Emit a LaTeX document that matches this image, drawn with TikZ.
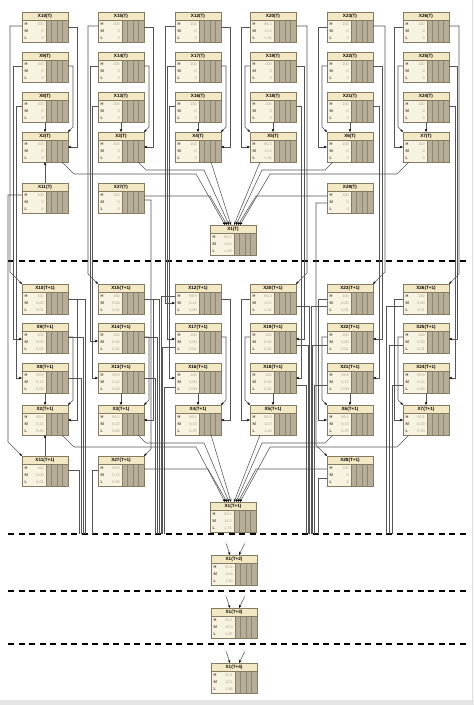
\documentclass[tikz,border=0pt]{standalone}
\usepackage{fontspec}
\setmainfont{Liberation Sans}
\usetikzlibrary{calc,arrows.meta}
\definecolor{ttl}{HTML}{F3E8C4}
\definecolor{bdy}{HTML}{F8F2E0}
\definecolor{barc}{HTML}{B7AE99}
\definecolor{barln}{HTML}{8F866F}
\definecolor{edgec}{HTML}{857A62}
\definecolor{valc}{HTML}{A8A08A}
\definecolor{wire}{HTML}{555555}
\tikzset{
 bnbox/.style={draw=edgec, line width=0.5pt, minimum width=46pt, minimum height=30pt, inner sep=0pt, outer sep=0pt, anchor=north west},
 ttxt/.style={font=\fontsize{4.6}{5}\selectfont\bfseries, inner sep=0pt},
 ltxt/.style={font=\fontsize{4}{4}\selectfont, inner sep=0pt, anchor=west},
 vtxt/.style={font=\fontsize{3.8}{4}\selectfont, text=valc, inner sep=0pt, anchor=east},
 conn/.style={draw=wire, line width=0.55pt},
 tip/.style={-{Stealth[length=3.2pt,width=2.6pt,color=black]}},
 cutline/.style={line width=1.6pt, dash pattern=on 6pt off 4.5pt},
 dotstxt/.style={font=\fontsize{4}{4}\selectfont, text=black!55, inner sep=0pt},
}
% #1 name #2 x #3 y #4 title #5 H #6 M #7 L
\newcommand\bn[7]{%
 \fill[ttl] (#2,#3) rectangle ++(46,8);
 \fill[bdy] (#2,#3+8) rectangle ++(24,22);
 \fill[barc] (#2+24,#3+8) rectangle ++(22,22);
 \draw[barln,line width=0.4pt] (#2+29.5,#3+9) -- ++(0,21) (#2+35,#3+9) -- ++(0,21) (#2+40.5,#3+9) -- ++(0,21);
 \draw[edgec,line width=0.4pt] (#2,#3+8) -- ++(46,0) (#2+24,#3+8) -- ++(0,22);
 \node[bnbox] (#1) at (#2,#3) {};
 \node[ttxt] at (#2+23,#3+4.2) {#4};
 \node[ltxt] at (#2+2.5,#3+12) {H};
 \node[ltxt] at (#2+2.5,#3+19) {M};
 \node[ltxt] at (#2+2.5,#3+26) {L};
 \node[vtxt] at (#2+22,#3+12) {#5};
 \node[vtxt] at (#2+22,#3+19) {#6};
 \node[vtxt] at (#2+22,#3+26) {#7};
}
\newcommand\parR[4]{%
 \draw[conn,tip] ($(#1.north east)+(0,15)$) -- ++(9,0) |- ($(#4.north east)+(0,15)$);
 \draw[conn,tip] ($(#2.north east)+(0,14)$) -- ++(5,0) -- ($(#4.north east)+(5,-5)$) -- (#4.north east);
 \draw[conn,tip] (#3.south) -- (#4.north);}
\newcommand\parL[4]{%
 \draw[conn,tip] ($(#1.north west)+(0,15)$) -- ++(-9,0) |- ($(#4.north west)+(0,15)$);
 \draw[conn,tip] ($(#2.north west)+(0,14)$) -- ++(-5,0) -- ($(#4.north west)+(-5,-5)$) -- (#4.north west);
 \draw[conn,tip] (#3.south) -- (#4.north);}
\newcommand\tinTopL[3]{\draw[conn,tip] ($(#1.north west)+(0,14)$) -- ++(-#3,0) -- ($(#2.north west)+(-#3,-#3)$) -- (#2.north west);}
\newcommand\tinTopR[3]{\draw[conn,tip] ($(#1.north east)+(0,14)$) -- ++(#3,0) -- ($(#2.north east)+(#3,-#3)$) -- (#2.north east);}
\newcommand\tinSideL[4]{\draw[conn,tip] ($(#1.north west)+(0,14)$) -- ++(-#3,0) |- ($(#2.north west)+(0,#4)$);}
\newcommand\tinSideR[4]{\draw[conn,tip] ($(#1.north east)+(0,14)$) -- ++(#3,0) |- ($(#2.north east)+(0,#4)$);}
\newcommand\outR[3]{\draw[conn] ($(#1.north east)+(0,#2)$) -| (#3);}
\newcommand\outL[3]{\draw[conn] ($(#1.north west)+(0,#2)$) -| (#3);}
\begin{document}
\begin{tikzpicture}[x=1pt,y=-1pt]
\useasboundingbox (0,0) rectangle (474,705);
\fill[white] (0,0) rectangle (474,705);
\fill[black!10] (0,700) rectangle (474,705);
\draw[black!12,line width=1pt] (472,0) -- (472,700);
% ---------- slice T ----------
\bn{X10T}{22}{12}{X10(T)}{100}{0}{0}
\bn{X9T}{22}{52}{X9(T)}{100}{0}{0}
\bn{X8T}{22}{92}{X8(T)}{100}{0}{0}
\bn{X2T}{22}{132}{X2(T)}{100}{0}{0}
\bn{X11T}{22}{183}{X11(T)}{100}{0}{0}
\bn{X15T}{98}{12}{X15(T)}{100}{0}{0}
\bn{X14T}{98}{52}{X14(T)}{100}{0}{0}
\bn{X13T}{98}{92}{X13(T)}{100}{0}{0}
\bn{X3T}{98}{132}{X3(T)}{100}{0}{0}
\bn{X27T}{98}{183}{X27(T)}{100}{0}{0}
\bn{X12T}{175}{12}{X12(T)}{100}{0}{0}
\bn{X17T}{175}{52}{X17(T)}{100}{0}{0}
\bn{X16T}{175}{92}{X16(T)}{100}{0}{0}
\bn{X4T}{175}{132}{X4(T)}{100}{0}{0}
\bn{X20T}{250}{12}{X20(T)}{86.2}{12.4}{1.40}
\bn{X19T}{250}{52}{X19(T)}{100}{0}{0}
\bn{X18T}{250}{92}{X18(T)}{100}{0}{0}
\bn{X5T}{250}{132}{X5(T)}{86.2}{12.4}{1.40}
\bn{X23T}{327}{12}{X23(T)}{100}{0}{0}
\bn{X22T}{327}{52}{X22(T)}{100}{0}{0}
\bn{X21T}{327}{92}{X21(T)}{100}{0}{0}
\bn{X6T}{327}{132}{X6(T)}{100}{0}{0}
\bn{X28T}{327}{183}{X28(T)}{100}{0}{0}
\bn{X26T}{403}{12}{X26(T)}{100}{0}{0}
\bn{X25T}{403}{52}{X25(T)}{100}{0}{0}
\bn{X24T}{403}{92}{X24(T)}{100}{0}{0}
\bn{X7T}{403}{132}{X7(T)}{100}{0}{0}
\bn{X1T}{210}{225}{X1(T)}{86.2}{12.4}{1.40}
% ---------- slice T+1 ----------
\bn{X10P}{22}{284}{X10(T+1)}{100}{0.00}{0.01}
\bn{X9P}{22}{323}{X9(T+1)}{100}{0.00}{0.01}
\bn{X8P}{22}{363}{X8(T+1)}{99.9}{0.12}{0.00}
\bn{X2P}{22}{405}{X2(T+1)}{99.1}{0.22}{0.60}
\bn{X11P}{22}{456}{X11(T+1)}{100}{0.00}{0.01}
\bn{X15P}{98}{284}{X15(T+1)}{100}{0.00}{0.01}
\bn{X14P}{98}{323}{X14(T+1)}{100}{0.00}{0.01}
\bn{X13P}{98}{363}{X13(T+1)}{99.9}{0.12}{0.00}
\bn{X3P}{98}{405}{X3(T+1)}{99.1}{0.22}{0.60}
\bn{X27P}{98}{456}{X27(T+1)}{99.9}{0.12}{0.00}
\bn{X12P}{175}{284}{X12(T+1)}{99.9}{0.12}{0.00}
\bn{X17P}{175}{323}{X17(T+1)}{100}{0.00}{0.01}
\bn{X16P}{175}{363}{X16(T+1)}{100}{0.00}{0.00}
\bn{X4P}{175}{405}{X4(T+1)}{99.1}{0.19}{0.70}
\bn{X20P}{250}{284}{X20(T+1)}{86.3}{12.2}{1.44}
\bn{X19P}{250}{323}{X19(T+1)}{100}{0.00}{0.01}
\bn{X18P}{250}{363}{X18(T+1)}{100}{0.00}{0.01}
\bn{X5P}{250}{405}{X5(T+1)}{86.3}{12.3}{1.40}
\bn{X23P}{327}{284}{X23(T+1)}{100}{0.00}{0.01}
\bn{X22P}{327}{323}{X22(T+1)}{100}{0.00}{0.01}
\bn{X21P}{327}{363}{X21(T+1)}{99.9}{0.12}{0.00}
\bn{X6P}{327}{405}{X6(T+1)}{99.1}{0.19}{0.70}
\bn{X28P}{327}{456}{X28(T+1)}{100}{0}{0}
\bn{X26P}{403}{284}{X26(T+1)}{100}{0.00}{0.01}
\bn{X25P}{403}{323}{X25(T+1)}{100}{0.00}{0.01}
\bn{X24P}{403}{363}{X24(T+1)}{99.9}{0.12}{0.00}
\bn{X7P}{403}{405}{X7(T+1)}{99.1}{0.19}{0.70}
\bn{X1P}{210}{502}{X1(T+1)}{84.1}{14.2}{1.74}
% ---------- later slices ----------
\bn{X1Q}{211}{555}{X1(T+2)}{83.4}{14.8}{1.80}
\bn{X1R}{211}{608}{X1(T+3)}{83.1}{15.0}{1.87}
\bn{X1S}{211}{663}{X1(T+4)}{83.1}{15.1}{1.86}
% ---------- slice separators ----------
\draw[cutline] (8,261) -- (467,261);
\draw[cutline] (8,534) -- (467,534);
\draw[cutline] (8,591) -- (467,591);
\draw[cutline] (8,644) -- (467,644);
% ---------- parents within slices ----------
\parR{X10T}{X9T}{X8T}{X2T}
\parR{X15T}{X14T}{X13T}{X3T}
\parR{X12T}{X17T}{X16T}{X4T}
\parL{X20T}{X19T}{X18T}{X5T}
\parL{X23T}{X22T}{X21T}{X6T}
\parL{X26T}{X25T}{X24T}{X7T}
\draw[conn,tip] (X11T.north) -- (X2T.south);
\parR{X10P}{X9P}{X8P}{X2P}
\parR{X15P}{X14P}{X13P}{X3P}
\parR{X12P}{X17P}{X16P}{X4P}
\parL{X20P}{X19P}{X18P}{X5P}
\parL{X23P}{X22P}{X21P}{X6P}
\parL{X26P}{X25P}{X24P}{X7P}
\draw[conn,tip] (X11P.north) -- (X2P.south);
% ---------- into X1(T) ----------
\draw[conn,tip] ($(X2T.south east)+(-6,0)$) -- ++(12,12) -- (196,174) -- ($(X1T.north)+(-8,0)$);
\draw[conn,tip] ($(X27T.north east)+(0,13)$) -- (210,196) -- ($(X1T.north)+(-6,0)$);
\draw[conn,tip] ($(X3T.south east)+(-6,0)$) -- ++(8,8) -- (204,170) -- ($(X1T.north)+(-4,0)$);
\draw[conn,tip] ($(X4T.south east)+(-10,0)$) -- ($(X1T.north)+(-2,0)$);
\draw[conn,tip] ($(X5T.south west)+(10,0)$) -- ($(X1T.north)+(1,0)$);
\draw[conn,tip] ($(X6T.south west)+(6,0)$) -- ++(-8,8) -- (262,170) -- ($(X1T.north)+(3,0)$);
\draw[conn,tip] ($(X28T.north west)+(0,13)$) -- (256,196) -- ($(X1T.north)+(5,0)$);
\draw[conn,tip] ($(X7T.south west)+(6,0)$) -- ++(-12,12) -- (270,174) -- ($(X1T.north)+(7,0)$);
% ---------- into X1(T+1) ----------
\draw[conn,tip] ($(X2P.south east)+(-6,0)$) -- ++(12,12) -- (196,447) -- ($(X1P.north)+(-8,0)$);
\draw[conn,tip] ($(X27P.north east)+(0,13)$) -- (208,469) -- ($(X1P.north)+(-6,0)$);
\draw[conn,tip] ($(X3P.south east)+(-6,0)$) -- ++(8,8) -- (204,443) -- ($(X1P.north)+(-4,0)$);
\draw[conn,tip] ($(X4P.south east)+(-10,0)$) -- ($(X1P.north)+(-2,0)$);
\draw[conn,tip] ($(X5P.south west)+(10,0)$) -- ($(X1P.north)+(1,0)$);
\draw[conn,tip] ($(X6P.south west)+(6,0)$) -- ++(-8,8) -- (262,443) -- ($(X1P.north)+(3,0)$);
\draw[conn,tip] ($(X28P.north west)+(0,13)$) -- (256,469) -- ($(X1P.north)+(5,0)$);
\draw[conn,tip] ($(X7P.south west)+(6,0)$) -- ++(-12,12) -- (270,447) -- ($(X1P.north)+(7,0)$);
% ---------- temporal links T -> T+1 ----------
\tinTopL{X10T}{X10P}{12}
\tinSideL{X9T}{X9P}{9}{16}
\tinSideL{X8T}{X8P}{6}{15}
\draw[conn,tip] ($(X11T.north west)+(0,12)$) -- ++(-14,0) -- ($(X11P.north west)+(-14,-14)$) -- (X11P.north west);
\tinTopL{X15T}{X15P}{10}
\tinSideL{X14T}{X14P}{8}{18}
\tinSideL{X13T}{X13P}{6}{15}
\draw[conn,tip] ($(X27T.north east)+(0,17)$) -- ++(7,0) -- ($(X27P.north east)+(7,-7)$) -- (X27P.north east);
\tinSideL{X12T}{X12P}{10}{19}
\tinSideL{X17T}{X17P}{8}{16}
\tinSideL{X16T}{X16P}{6}{15}
\tinTopR{X20T}{X20P}{11}
\tinSideR{X19T}{X19P}{8}{16}
\tinSideR{X18T}{X18P}{5}{15}
\tinTopR{X23T}{X23P}{12}
\tinSideR{X22T}{X22P}{9}{16}
\tinSideR{X21T}{X21P}{6}{15}
\draw[conn,tip] ($(X28T.north west)+(0,20)$) -- ++(-11,0) -- ($(X28P.north west)+(-11,-11)$) -- (X28P.north west);
\tinTopR{X26T}{X26P}{10}
\tinSideR{X25T}{X25P}{8}{16}
\tinSideR{X24T}{X24P}{6}{15}
% ---------- temporal links T+1 -> T+2 (cut at separator) ----------
\coordinate (oX10) at (85,534);
\coordinate (oX9) at (83,534);
\coordinate (oX8) at (81,534);
\coordinate (oX11) at (79,534);
\coordinate (oX27) at (92,534);
\coordinate (oX15) at (159,534);
\coordinate (oX14) at (157,534);
\coordinate (oX13) at (155,534);
\coordinate (oX12) at (161,534);
\coordinate (oX17) at (162.5,534);
\coordinate (oX16) at (164,534);
\coordinate (oX20) at (309.5,534);
\coordinate (oX19) at (308,534);
\coordinate (oX18) at (306.5,534);
\coordinate (oX23) at (311,534);
\coordinate (oX22) at (312.5,534);
\coordinate (oX21) at (314,534);
\coordinate (oX28) at (318,534);
\coordinate (oX26) at (386,534);
\coordinate (oX25) at (389,534);
\coordinate (oX24) at (392,534);
\outR{X10P}{15}{oX10}
\outR{X9P}{14}{oX9}
\outR{X8P}{15}{oX8}
\outR{X11P}{14}{oX11}
\outL{X27P}{14}{oX27}
\outR{X15P}{15}{oX15}
\outR{X14P}{14}{oX14}
\outR{X13P}{15}{oX13}
\outL{X12P}{12}{oX12}
\outL{X17P}{24}{oX17}
\outL{X16P}{24}{oX16}
\outR{X20P}{22}{oX20}
\outR{X19P}{22}{oX19}
\outR{X18P}{22}{oX18}
\outL{X23P}{22}{oX23}
\outL{X22P}{22}{oX22}
\outL{X21P}{22}{oX21}
\outL{X28P}{22}{oX28}
\outL{X26P}{22}{oX26}
\outL{X25P}{22}{oX25}
\outL{X24P}{22}{oX24}
% ---------- elided links into X1(T+2..T+4) ----------
\node[dotstxt] (d2a) at (226,543) {...};
\node[dotstxt] (d2b) at (245,543) {...};
\draw[conn,tip] (d2a) -- ($(X1Q.north)+(-4,0)$);
\draw[conn,tip] (d2b) -- ($(X1Q.north)+(5,0)$);
\node[dotstxt] (d3a) at (226,596) {...};
\node[dotstxt] (d3b) at (245,596) {...};
\draw[conn,tip] (d3a) -- ($(X1R.north)+(-4,0)$);
\draw[conn,tip] (d3b) -- ($(X1R.north)+(5,0)$);
\node[dotstxt] (d4a) at (226,651) {...};
\node[dotstxt] (d4b) at (245,651) {...};
\draw[conn,tip] (d4a) -- ($(X1S.north)+(-4,0)$);
\draw[conn,tip] (d4b) -- ($(X1S.north)+(5,0)$);
\end{tikzpicture}
\end{document}
